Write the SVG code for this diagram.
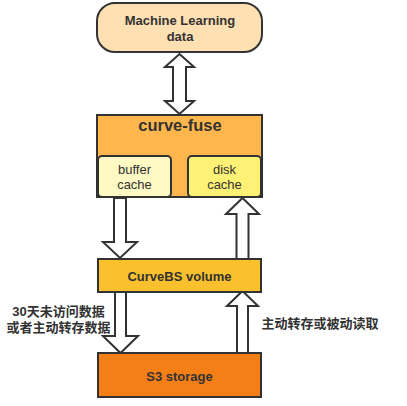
<svg xmlns="http://www.w3.org/2000/svg" width="407" height="406" viewBox="0 0 407 406">
<style>
.box{stroke:#323232;stroke-width:2}
.arr{fill:#fff;stroke:#323232;stroke-width:2;stroke-linejoin:miter}
.t{font-family:"Liberation Sans","Noto Sans CJK SC",sans-serif;fill:#323232;text-anchor:middle}
.b{font-weight:bold;font-size:13px}
.n{font-size:13px}
.c{font-family:"Liberation Sans","Noto Sans CJK SC",sans-serif;font-size:13px;fill:#323232;font-weight:bold;text-anchor:middle}
</style>
<rect x="0" y="0" width="407" height="406" fill="#fff"/>
<g id="connectors">
<polygon class="arr" points="179.5,54 194,67 186,67 186,101 194,101 179.5,114 165,101 173,101 173,67 165,67"/>
<polygon class="arr" points="114,198 126,198 126,242 137,242 120,258 103,242 114,242"/>
<polygon class="arr" points="242.5,198 259,214 248.5,214 248.5,259 236.5,259 236.5,214 226,214"/>
<polygon class="arr" points="115,292 126,292 126,336 138,336 120.5,353 103,336 115,336"/>
<polygon class="arr" points="242.5,291 258,306 248,306 248,353 237,353 237,306 227,306"/>
<text class="c" x="58.5" y="316">30天未访问数据</text>
<text class="c" x="58.5" y="332">或者主动转存数据</text>
<text class="c" x="320" y="328" font-weight="500">主动转存或被动读取</text>
</g>
<g id="ml-data">
<rect class="box" x="97" y="3" width="165" height="49" rx="18" fill="#FFE0B2"/>
<text class="t b" x="180" y="25">Machine Learning</text>
<text class="t b" x="180" y="40.5">data</text>
</g>
<g id="curve-fuse">
<rect class="box" x="97" y="115" width="165" height="82" fill="#FFB74D"/>
<text class="t" x="180" y="131" font-size="16.5" font-weight="bold">curve-fuse</text>
</g>
<g id="buffer-cache">
<rect class="box" x="98" y="156" width="73" height="41" rx="4" fill="#FFF9C4"/>
<text class="t n" x="134.5" y="173.5">buffer</text>
<text class="t n" x="134.5" y="189">cache</text>
</g>
<g id="disk-cache">
<rect class="box" x="188" y="156" width="73" height="41" rx="4" fill="#FFF176"/>
<text class="t n" x="224.5" y="173.5">disk</text>
<text class="t n" x="224.5" y="189">cache</text>
</g>
<g id="curvebs-volume">
<rect class="box" x="98" y="259" width="163" height="33" fill="#FBC02D"/>
<text class="t b" x="179.5" y="281">CurveBS volume</text>
</g>
<g id="s3-storage">
<rect class="box" x="98" y="353" width="163" height="44" fill="#F57F17"/>
<text class="t b" x="179.5" y="381">S3 storage</text>
</g>
</svg>
